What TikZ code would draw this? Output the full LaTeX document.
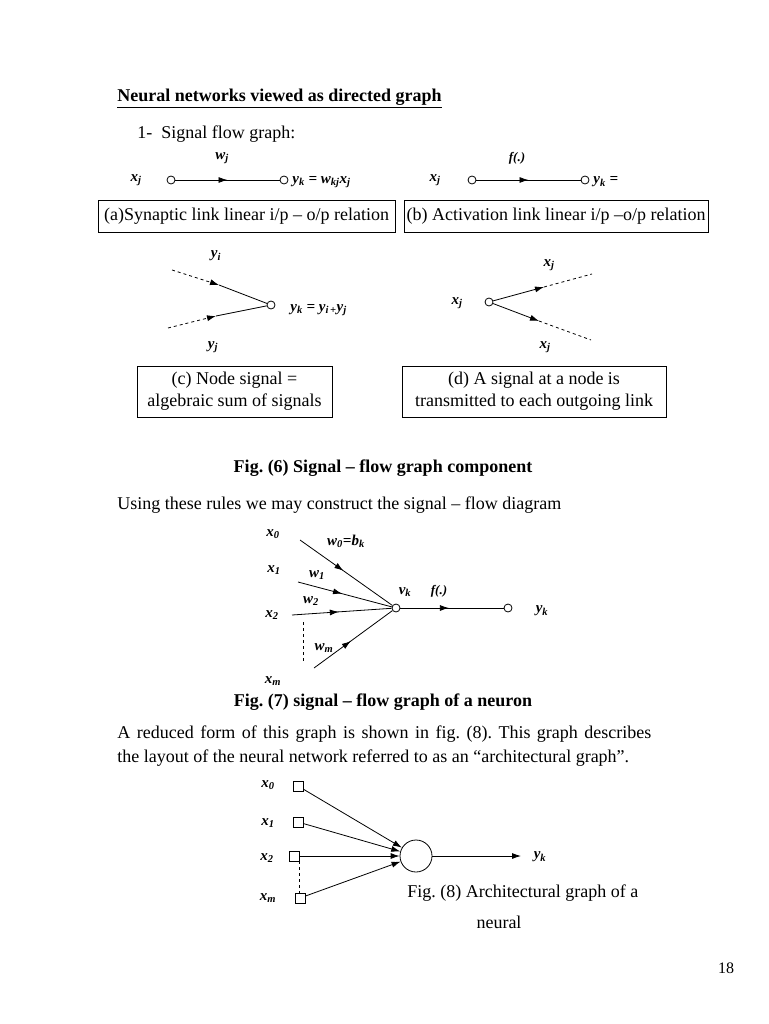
\documentclass[tikz,border=0pt]{standalone}
\usepackage{fontspec}
\setmainfont{Liberation Serif}
\usetikzlibrary{arrows.meta}
\usetikzlibrary{decorations.markings}
\newcommand\ix[1]{\textsubscript{#1}}
\frenchspacing

\begin{document}
\begin{tikzpicture}[x=1pt, y=-1pt, line width=0.8pt, >={Latex[length=9pt,width=6pt]},
  sig/.style = {draw, circle, inner sep=0pt, minimum size=8pt},
  inp/.style = {draw, rectangle, inner sep=0pt, minimum size=10pt},
  lbl/.style = {font=\fontsize{15}{18}\selectfont\bfseries\itshape, inner sep=0pt},
  txt/.style = {font=\fontsize{18}{24}\selectfont, inner sep=0pt},
  figcap/.style = {font=\fontsize{18}{22}\selectfont\bfseries, inner sep=0pt},
  rulebox/.style = {draw, font=\fontsize{18}{22}\selectfont, align=center, inner sep=1pt},
  mid/.style = {postaction={decorate}, decoration={markings, mark=at position #1 with {\arrow{>}}}},
  mid/.default = 0.5]
\useasboundingbox[fill=white] (0,0) rectangle (768,1024);

% heading
\node[txt, anchor=base west] (title) at (117,102) {\underline{\textbf{Neural networks viewed as directed graph}}};
\node[txt, anchor=west] (sfg) at (137,134) {1-\ \ Signal flow graph:};

% (a) synaptic link
\node[sig] (a1) at (171,180) {};
\node[sig] (a2) at (284,180) {};
\node[lbl] (axj) at (136,180) {x\ix{j}};
\node[lbl] (awj) at (222,158) {w\ix{j}};
\node[lbl, anchor=west] (ayk) at (292,182) {y\ix{k} = w\ix{kj}x\ix{j}};
\draw[mid] (a1) -- (a2);
\node[rulebox, minimum width=297pt, minimum height=32pt] (boxa) at (246.5,216) {(a)Synaptic link linear i/p -- o/p relation};

% (b) activation link
\node[sig] (b1) at (472,180) {};
\node[sig] (b2) at (585,180) {};
\node[lbl] (bxj) at (435,180) {x\ix{j}};
\node[lbl, font=\fontsize{13}{16}\selectfont\bfseries\itshape] (bf) at (517,158) {f(.)};
\node[lbl, anchor=west] (byk) at (593,182) {y\ix{k} =};
\draw[mid] (b1) -- (b2);
\node[rulebox, minimum width=304pt, minimum height=32pt] (boxb) at (556,216) {(b) Activation link linear i/p --o/p relation};

% (c) node signal
\node[sig] (c0) at (271,305) {};
\coordinate (c1s) at (172,270);
\coordinate (c1m) at (219,285);
\coordinate (c2s) at (168,328);
\coordinate (c2m) at (216,316);
\draw[dashed, ->] (c1s) -- (c1m);
\draw (c1m) -- (c0);
\draw[dashed, ->] (c2s) -- (c2m);
\draw (c2m) -- (c0);
\node[lbl] (cyi) at (216,256) {y\ix{i}};
\node[lbl] (cyj) at (213,347) {y\ix{j}};
\node[lbl, anchor=west] (cyk) at (290,310) {y\ix{k} = y\ix{i\,+}y\ix{j}};
\node[rulebox, minimum width=195pt, minimum height=51pt] (boxc) at (234.5,391.5) {(c) Node signal =\\algebraic sum of signals};

% (d) node fan-out
\node[sig] (d0) at (489,302) {};
\coordinate (d1m) at (544,287);
\coordinate (d1e) at (592,274);
\coordinate (d2m) at (539,321);
\coordinate (d2e) at (591,340);
\draw[->] (d0) -- (d1m);
\draw[dashed] (d1m) -- (d1e);
\draw[->] (d0) -- (d2m);
\draw[dashed] (d2m) -- (d2e);
\node[lbl] (dxj) at (457,303) {x\ix{j}};
\node[lbl] (dx1) at (549,265) {x\ix{j}};
\node[lbl] (dx2) at (545,347) {x\ix{j}};
\node[rulebox, minimum width=264pt, minimum height=51pt] (boxd) at (534,391.5) {(d) A signal at a node is\\transmitted to each outgoing link};

\node[figcap] (fig6) at (383,468) {Fig. (6) Signal -- flow graph component};
\node[txt, anchor=west] (using) at (117,505) {Using these rules we may construct the signal -- flow diagram};

% fig 7: signal-flow graph of a neuron
\node[sig] (vk) at (396,608) {};
\node[sig] (yk) at (508,608) {};
\coordinate (x0s) at (300,540);
\coordinate (x1s) at (298,582);
\coordinate (x2s) at (292,615);
\coordinate (xms) at (314,668);
\draw[mid=0.47] (x0s) -- (vk);
\draw[mid=0.47] (x1s) -- (vk);
\draw[mid=0.47] (x2s) -- (vk);
\draw[mid=0.47] (xms) -- (vk);
\draw[mid=0.47] (vk) -- (yk);
\draw[dashed, line width=0.6pt] (303,622) -- (303,663);
\node[lbl] (lx0) at (273,534) {x\ix{0}};
\node[lbl] (lx1) at (274,570) {x\ix{1}};
\node[lbl] (lx2) at (272,615) {x\ix{2}};
\node[lbl] (lxm) at (273,681) {x\ix{m}};
\node[lbl] (lw0) at (346,541) {w\ix{0}=b\ix{k}};
\node[lbl] (lw1) at (317,575) {w\ix{1}};
\node[lbl] (lw2) at (311,601) {w\ix{2}};
\node[lbl] (lwm) at (324,648) {w\ix{m}};
\node[lbl] (lvk) at (405,592) {v\ix{k}};
\node[lbl, font=\fontsize{13}{16}\selectfont\bfseries\itshape] (lf) at (439,591) {f(.)};
\node[lbl] (lyk) at (542,611) {y\ix{k}};

\node[figcap] (fig7) at (383,702) {Fig. (7) signal -- flow graph of a neuron};
\node[txt, anchor=north west, text width=534pt, align=justify] (para) at (117,725)
  {A reduced form of this graph is shown in fig. (8). This graph describes\linebreak the layout of the neural network referred to as an ``architectural graph''.};

% fig 8: architectural graph
\node[inp] (in0) at (298,786) {};
\node[inp] (in1) at (298,822) {};
\node[inp] (in2) at (294,856) {};
\node[inp] (inm) at (300,898) {};
\node[draw, circle, minimum size=32pt, inner sep=0pt] (nk) at (416,856) {};
\coordinate (out) at (521,856);
\draw[->] (in0) -- (nk);
\draw[->] (in1) -- (nk);
\draw[->] (in2) -- (nk);
\draw[->] (inm) -- (nk);
\draw[->] (nk) -- (out);
\draw[dashed, line width=0.6pt] (in2.south east) -- (in2.south east |- inm.north);
\node[lbl] (ax0) at (268,785) {x\ix{0}};
\node[lbl] (ax1) at (268,823) {x\ix{1}};
\node[lbl] (ax2) at (267,858) {x\ix{2}};
\node[lbl] (axm) at (268,898) {x\ix{m}};
\node[lbl] (ayk) at (540,857) {y\ix{k}};
\node[txt, anchor=west] (fig8) at (407,893) {Fig. (8) Architectural graph of a};
\node[txt] (fig8b) at (499,922) {neural};

\node[txt, font=\fontsize{16}{18}\selectfont] (page) at (726,968) {18};
\end{tikzpicture}
\end{document}
